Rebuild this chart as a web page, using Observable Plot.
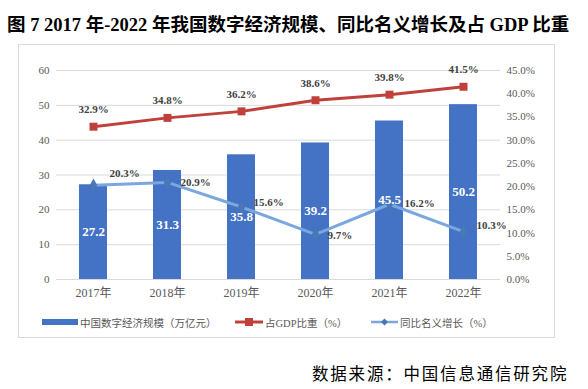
<!DOCTYPE html>
<html>
<head>
<meta charset="utf-8">
<script src="https://cdn.jsdelivr.net/npm/d3@7"></script>
<script src="https://cdn.jsdelivr.net/npm/@observablehq/plot@0.6"></script>
<style>
  html, body { margin: 0; padding: 0; background: #fff; }
  #wrap { position: relative; width: 588px; height: 389px; overflow: hidden; background: #fff; }
  #title { position: absolute; left: 7px; top: 10px; white-space: nowrap; font-family: "Liberation Serif", "Noto Sans CJK SC", serif; font-weight: bold; font-size: 18.5px; color: #000; }
  #frame { position: absolute; left: 18px; top: 44px; width: 537px; height: 294px; border: 1px solid #d9d9d9; box-sizing: border-box; }
  .plot { position: absolute; left: 0; top: 0; }
  #legend { position: absolute; left: 42px; top: 314px; height: 16px; font-family: "Liberation Serif", "Noto Sans CJK SC", serif; font-size: 10.5px; color: #595959; white-space: nowrap; }
  #legend .item { position: absolute; top: 0; display: flex; align-items: center; height: 16px; }
  #legend svg { margin-right: 2px; }
  #source { position: absolute; left: 312px; top: 361px; white-space: nowrap; font-family: "Noto Sans CJK SC", sans-serif; font-size: 16.5px; letter-spacing: 1.8px; color: #000; }
</style>
</head>
<body>
<div id="wrap">
  <div id="title">图 7 2017 年-2022 年我国数字经济规模、同比名义增长及占 GDP 比重</div>
  <div id="frame"></div>
  <div id="legend"></div>
  <div id="source">数据来源：中国信息通信研究院</div>
</div>
<script>
// ---- data ----
const years = ["2017年", "2018年", "2019年", "2020年", "2021年", "2022年"];
const scale = [27.2, 31.3, 35.8, 39.2, 45.5, 50.2];          // 万亿元
const gdpShare = [32.9, 34.8, 36.2, 38.6, 39.8, 41.5];       // %
const growth = [20.3, 20.9, 15.6, 9.7, 16.2, 10.3];          // %
const leftTicks = [0, 10, 20, 30, 40, 50, 60];
const rightTicks = [0, 5, 10, 15, 20, 25, 30, 35, 40, 45];
const seriesNames = ["中国数字经济规模（万亿元）", "占GDP比重（%）", "同比名义增长（%）"];

// ---- styles ----
const barColor = "#4472c4";
const redColor = "#c0413b";
const blueLine = "#7ba7df";
const blueMark = "#4a78b6";
const labelColor = "#404040";
// label offsets for growth labels (px)
const growthLabelOffsets = [[16, -12], [13, 0], [12, -5], [12, 1], [15, -1], [13, -6]];

const rows = years.map((y, i) => ({year: y, scale: scale[i], share: gdpShare[i], growth: growth[i], i}));

const W = 588, H = 389;
const margins = {marginTop: 70, marginBottom: 110, marginLeft: 56, marginRight: 88};
const xScale = {type: "band", domain: years, paddingInner: 0.62, paddingOuter: 0.31};
const baseStyle = {fontFamily: "'Liberation Serif', 'Noto Sans CJK SC', serif", fontSize: "11px", color: "#595959", background: "transparent", overflow: "visible"};

// layer 1: bars, grid, left and bottom axes
const p1 = Plot.plot({
  width: W, height: H, ...margins,
  x: {...xScale, label: null},
  y: {domain: [0, 60], label: null},
  style: baseStyle,
  marks: [
    Plot.ruleY(leftTicks, {stroke: "#d9d9d9", strokeWidth: 1}),
    Plot.barY(rows, {x: "year", y: "scale", fill: barColor}),
    Plot.axisY({ticks: leftTicks, tickSize: 0, tickPadding: 7, label: null, fill: "#595959"}),
    Plot.axisX({tickSize: 0, tickPadding: 9, label: null, fontSize: 12, fill: "#595959"})
  ]
});
p1.classList.add("plot");

// layer 2: percentage lines on the right axis
const growthMarks = rows.map((r, i) => Plot.text([r], {
  x: "year", y: "growth", text: d => d.growth.toFixed(1) + "%",
  textAnchor: "start", dx: growthLabelOffsets[i][0], dy: growthLabelOffsets[i][1],
  fill: labelColor, fontWeight: "bold", fontSize: 11
}));

const p2 = Plot.plot({
  width: W, height: H, ...margins,
  x: {...xScale, axis: null},
  y: {domain: [0, 45], label: null},
  style: baseStyle,
  marks: [
    Plot.line(rows, {x: "year", y: "growth", stroke: blueLine, strokeWidth: 3}),
    Plot.dot(rows, {x: "year", y: "growth", symbol: "diamond", fill: blueMark, r: 4}),
    Plot.line(rows, {x: "year", y: "share", stroke: redColor, strokeWidth: 3}),
    Plot.dot(rows, {x: "year", y: "share", symbol: "square", fill: redColor, r: 4.5}),
    Plot.text(rows, {x: "year", y: "share", text: d => d.share.toFixed(1) + "%", dy: -17, fill: labelColor, fontWeight: "bold", fontSize: 11}),
    ...growthMarks,
    Plot.axisY({anchor: "right", ticks: rightTicks, tickFormat: d => d.toFixed(1) + "%", tickSize: 0, tickPadding: 6, label: null, fill: "#595959"})
  ]
});
p2.classList.add("plot");

// layer 3: bar value labels, on top of the lines
const p3 = Plot.plot({
  width: W, height: H, ...margins,
  x: {...xScale, axis: null},
  y: {domain: [0, 60], axis: null},
  style: baseStyle,
  marks: [
    Plot.text(rows, {x: "year", y: d => d.scale / 2, text: d => d.scale.toFixed(1), fill: "white", fontWeight: "bold", fontSize: 13})
  ]
});
p3.classList.add("plot");

const wrap = document.getElementById("wrap");
const legendEl = document.getElementById("legend");
wrap.insertBefore(p1, legendEl);
wrap.insertBefore(p2, legendEl);
wrap.insertBefore(p3, legendEl);

// ---- legend ----
const legendDefs = [
  {left: 0, sym: `<svg width="36" height="8"><rect x="0" y="1" width="36" height="6" fill="${barColor}"/></svg>`},
  {left: 193, sym: `<svg width="28" height="10"><line x1="0" y1="5" x2="28" y2="5" stroke="${redColor}" stroke-width="3"/><rect x="10" y="1" width="8" height="8" fill="${redColor}"/></svg>`},
  {left: 329, sym: `<svg width="27" height="10"><line x1="0" y1="5" x2="27" y2="5" stroke="${blueLine}" stroke-width="2.5"/><path d="M13.5 1.5 L17 5 L13.5 8.5 L10 5 Z" fill="${blueMark}"/></svg>`}
];
legendDefs.forEach((d, i) => {
  const el = document.createElement("div");
  el.className = "item";
  el.style.left = d.left + "px";
  el.innerHTML = d.sym + `<span>${seriesNames[i]}</span>`;
  legendEl.appendChild(el);
});
</script>
</body>
</html>
